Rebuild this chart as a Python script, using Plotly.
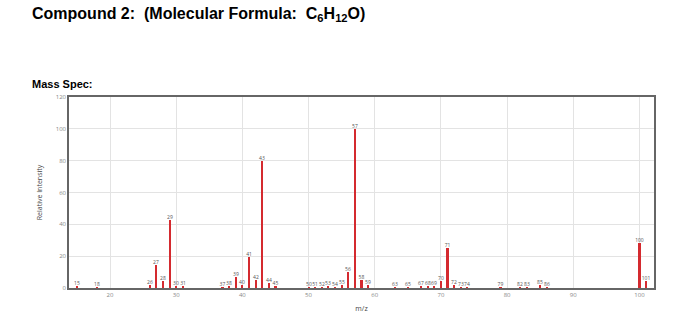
import plotly.graph_objects as go

mz = [15, 18, 26, 27, 28, 29, 30, 31, 37, 38, 39, 40, 41, 42, 43, 44, 45,
      50, 51, 52, 53, 54, 55, 56, 57, 58, 59, 63, 65, 67, 68, 69, 70, 71,
      72, 73, 74, 79, 82, 83, 85, 86, 100, 101]
intensity = [1, 0.5, 2, 14.5, 4.7, 43, 1.5, 0.8, 0.5, 1, 6.8, 2, 19.2, 5, 80, 3.3, 1,
             0.5, 0.6, 0.6, 1, 0.6, 2.2, 10, 100, 5.3, 1.6, 0.5, 0.5, 1.5, 0.8, 1, 4.3, 25,
             2, 0.6, 0.5, 0.5, 0.5, 0.5, 2, 0.5, 28, 4.3]
labels = [str(m) for m in mz]

x_ticks = [20, 30, 40, 50, 60, 70, 80, 90, 100]
y_ticks = [0, 20, 40, 60, 80, 100, 120]

L, R, T, B = 69, 654, 97, 290
W, H = 700, 324

def px(xp):
    return (xp - L) / (R - L)

def py(yp):
    return (B - yp) / (B - T)

fig = go.Figure()
fig.add_trace(go.Bar(
    x=mz, y=intensity, width=0.32,
    marker=dict(color="#d42a2f", line=dict(width=0)),
    text=labels, textposition="outside", constraintext="none",
    textfont=dict(size=5, color="#555555", family="Open Sans"),
    cliponaxis=False, hoverinfo="x+y",
))

fig.update_layout(
    width=W, height=H,
    margin=dict(l=L, r=W - R, t=T, b=H - B),
    paper_bgcolor="white", plot_bgcolor="white",
    showlegend=False,
    font=dict(family="Open Sans", color="#777777", size=6),
    xaxis=dict(range=[13.8, 102.2], tickvals=x_ticks, ticks="",
               showgrid=True, gridcolor="#e3e3e3", gridwidth=1,
               showline=True, linecolor="#666666", linewidth=1.5, mirror=True,
               zeroline=False, tickfont=dict(size=6, color="#888888"),
               title=dict(text="m/z", font=dict(size=7, color="#444444"), standoff=8)),
    yaxis=dict(range=[0, 120], tickvals=y_ticks, ticks="",
               showgrid=True, gridcolor="#e3e3e3", gridwidth=1,
               showline=True, linecolor="#666666", linewidth=1.5, mirror=True,
               zeroline=False, tickfont=dict(size=6, color="#888888"),
               title=dict(text="Relative Intensity", font=dict(size=7, color="#444444"), standoff=12)),
    bargap=0,
)

fig.add_annotation(text="<b>Compound 2:  (Molecular Formula:  C<sub>6</sub>H<sub>12</sub>O)</b>",
                   xref="paper", yref="paper", x=px(30), y=py(14),
                   xanchor="left", yanchor="middle", showarrow=False,
                   font=dict(family="Liberation Sans", size=16, color="black"))
fig.add_annotation(text="<b>Mass Spec:</b>",
                   xref="paper", yref="paper", x=px(30), y=py(84),
                   xanchor="left", yanchor="middle", showarrow=False,
                   font=dict(family="Liberation Sans", size=11, color="black"))

fig.write_html("out.html")
